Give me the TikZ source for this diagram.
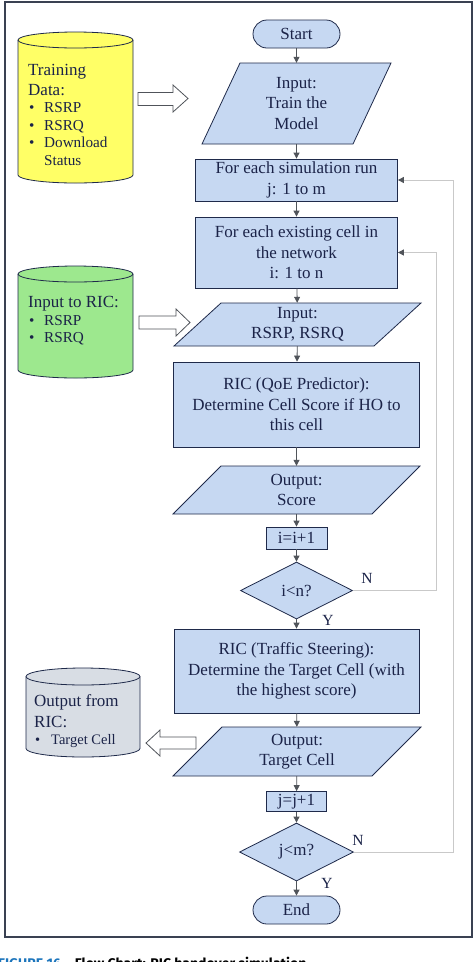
\documentclass[tikz,border=0pt]{standalone}
\usepackage{fontspec}
\setmainfont{Liberation Serif}
\newfontfamily\capfont{Fira Sans}
\usetikzlibrary{arrows.meta,shapes.geometric,calc}
\definecolor{boxfill}{HTML}{C6D8F2}
\definecolor{boxline}{HTML}{1F2A4A}
\definecolor{txt}{HTML}{1B2348}
\definecolor{arr}{HTML}{50545A}
\definecolor{loopc}{HTML}{C9C9C9}
\definecolor{framec}{HTML}{3A4152}
\definecolor{cylY}{HTML}{FFFF66}
\definecolor{cylG}{HTML}{9DE88E}
\definecolor{cylS}{HTML}{D8DDE4}
\definecolor{capblue}{HTML}{1C75BC}
\tikzset{
 base/.style={font=\fontsize{17}{20.5}\selectfont, text=txt, inner sep=0pt, align=center},
 proc/.style={base, rectangle, draw=boxline, fill=boxfill, line width=0.8pt},
 iotext/.style={base, rectangle},
 term/.style={proc, rounded corners=14pt},
 dec/.style={base, diamond, draw=boxline, fill=boxfill, line width=0.8pt},
 flow/.style={draw=arr, line width=0.8pt, -{Triangle[width=6pt,length=6pt]}},
 loopline/.style={draw=loopc, line width=1pt, -{Triangle[width=6pt,length=6pt,color=arr]}},
 lbl/.style={font=\fontsize{15.5}{18}\selectfont, text=txt, inner sep=0pt},
 ctext/.style={font=\fontsize{17}{20}\selectfont, text=txt, inner sep=0pt, anchor=base west},
 btext/.style={font=\fontsize{15.2}{17}\selectfont, text=txt, inner sep=0pt, anchor=base west},
 stext/.style={font=\fontsize{14.5}{16}\selectfont, text=txt, inner sep=0pt, anchor=base west},
 blockarrow/.style={draw=arr, fill=white, line width=0.8pt, line join=miter},
 cylbody/.style={draw=boxline, line width=0.8pt},
}
% name, cx, cy, w, h, slant, text
\newcommand{\paraio}[7]{%
  \path[fill=boxfill,draw=boxline,line width=0.8pt]
    ({#2-#4/2},{#3+#5/2}) -- ({#2-#4/2+#6},{#3-#5/2}) -- ({#2+#4/2},{#3-#5/2}) -- ({#2+#4/2-#6},{#3+#5/2}) -- cycle;
  \node[iotext,minimum width=#4,minimum height=#5] (#1) at (#2,#3) {#7};
}
% x1, x2, ytop(center of top ellipse), ybottom (sides end), ry, fill
\newcommand{\cylshape}[6]{%
  \path[cylbody,fill=#6] (#1,#3) -- (#1,#4)
    arc[start angle=180,end angle=0,x radius={(#2-#1)/2},y radius=#5] -- (#2,#3)
    arc[start angle=0,end angle=-180,x radius={(#2-#1)/2},y radius=#5] -- cycle;
  \draw[cylbody] (#1,#3) arc[start angle=180,end angle=0,x radius={(#2-#1)/2},y radius=#5];
}
\begin{document}
\begin{tikzpicture}[x=1pt,y=-1pt]
\useasboundingbox (0,0) rectangle (474,962);
\fill[white] (0,0) rectangle (474,962);
\draw[framec,line width=2pt] (4.5,1.5) rectangle (472,937);

% main column
\node[term,minimum width=87,minimum height=28] (start) at (296.5,34) {Start};
\paraio{train}{296.5}{103.5}{189}{81}{38}{Input:\\Train the\\Model}
\node[proc,minimum width=202,minimum height=42] (sim) at (296.5,180) {For each simulation run\\j: 1 to m};
\node[proc,minimum width=202,minimum height=71] (cell) at (296.5,252.5) {For each existing cell in\\the network\\i: 1 to n};
\paraio{inr}{297.5}{324.5}{247}{43}{47}{Input:\\RSRP, RSRQ}
\node[proc,minimum width=246,minimum height=85] (qoe) at (296.5,404.5) {RIC (QoE Predictor):\\Determine Cell Score if HO to\\this cell};
\paraio{score}{296.5}{490}{247}{48}{48}{Output:\\Score}
\node[proc,minimum width=61,minimum height=22] (inc) at (296.5,538) {i=i+1};
\node[dec,minimum width=112,minimum height=57] (ilt) at (296.5,590.5) {i<n?};
\node[proc,minimum width=245,minimum height=84] (ts) at (296.5,671) {RIC (Traffic Steering):\\Determine the Target Cell (with\\the highest score)};
\paraio{otc}{297}{751.5}{248}{49}{49}{Output:\\Target Cell}
\node[proc,minimum width=60,minimum height=20] (jinc) at (296.5,801.5) {j=j+1};
\node[dec,minimum width=114,minimum height=58] (jlt) at (296.5,852) {j<m?};
\node[term,minimum width=87,minimum height=28] (end) at (296.5,910) {End};

% flow arrows
\draw[flow] (start) -- (train);
\draw[flow] (train) -- (sim);
\draw[flow] (sim) -- (cell);
\draw[flow] (cell) -- (inr);
\draw[flow] (inr) -- (qoe);
\draw[flow] (qoe) -- (score);
\draw[flow] (score) -- (inc);
\draw[flow] (inc) -- (ilt);
\draw[flow] (ilt) -- (ts);
\draw[flow] (ts) -- (otc);
\draw[flow] (otc) -- (jinc);
\draw[flow] (jinc) -- (jlt);
\draw[flow] (jlt) -- (end);

% loops
\draw[loopline] (ilt.east) -- ++(84,0) |- (cell.east);
\draw[loopline] (jlt.east) -- ++(100,0) |- (sim.east);
\node[lbl] (n1) at (367,578) {N};
\node[lbl] (y1) at (328,620) {Y};
\node[lbl] (n2) at (358,840) {N};
\node[lbl] (y2) at (327,883) {Y};

% cylinders
\cylshape{18}{133}{40}{175}{8}{cylY}
\node[ctext] (yt1) at (28,75) {Training};
\node[ctext] (yt2) at (28,95) {Data:};
\node[btext] (yb1) at (29,112.5) {•};
\node[btext] (yt3) at (44,112.5) {RSRP};
\node[btext] (yb2) at (29,130) {•};
\node[btext] (yt4) at (44,130) {RSRQ};
\node[btext] (yb3) at (29,147.5) {•};
\node[btext] (yt5) at (44,147.5) {Download};
\node[btext] (yt6) at (44,165) {Status};

\cylshape{18}{133}{274}{370}{8}{cylG}
\node[ctext] (gt1) at (28,307) {Input to RIC:};
\node[btext] (gb1) at (29,325) {•};
\node[btext] (gt2) at (44,325) {RSRP};
\node[btext] (gb2) at (29,342) {•};
\node[btext] (gt3) at (44,342) {RSRQ};

\cylshape{26}{140}{676.5}{748.5}{8.5}{cylS}
\node[ctext] (st1) at (34,706) {Output from};
\node[ctext] (st2) at (34,727) {RIC:};
\node[stext] (sb1) at (35,744) {•};
\node[stext] (st3) at (51,744) {Target Cell};

% block arrows
\path[blockarrow] (138,92.5) -- (173,92.5) -- (173,85) -- (188,98.5) -- (173,112) -- (173,105.5) -- (138,105.5) -- cycle;
\path[blockarrow] (139,316) -- (176,316) -- (176,309) -- (190,322.5) -- (176,336) -- (176,329) -- (139,329) -- cycle;
\path[blockarrow] (196,737) -- (160,737) -- (160,730) -- (146,743) -- (160,756) -- (160,749) -- (196,749) -- cycle;

% caption (cut off by the page edge, as in the source)
\node[anchor=base west,inner sep=0pt] (cap) at (-2,968) {\capfont\bfseries\fontsize{14}{16}\selectfont\textcolor{capblue}{FIGURE 16}\hspace{14pt}Flow Chart: RIC handover simulation};
\end{tikzpicture}
\end{document}
